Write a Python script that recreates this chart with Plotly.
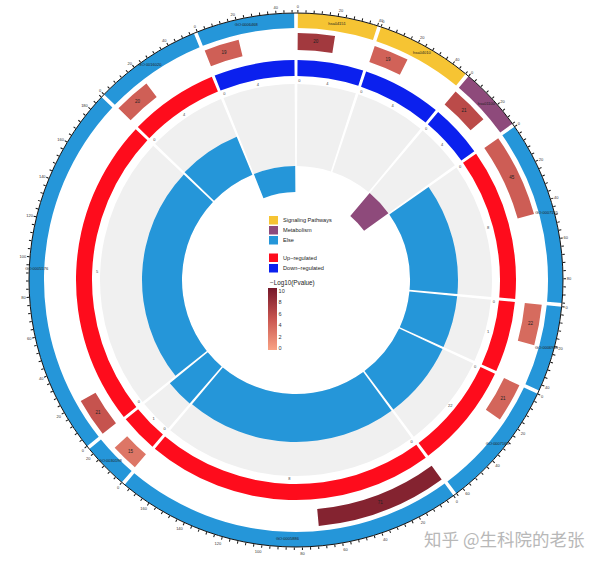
import plotly.graph_objects as go

# ---------------- data ----------------
terms = ["hsa04151", "hsa04010", "hsa01100", "GO:0007155", "GO:0006955", "GO:0007165",
         "GO:0005886", "GO:0030198", "GO:0005576", "GO:0016020", "GO:0006468"]
category = ["Signaling Pathways", "Signaling Pathways", "Metabolism", "Else", "Else", "Else",
            "Else", "Else", "Else", "Else", "Else"]
gene_total = [40, 48, 32, 92, 43, 64, 175, 23, 188, 54, 49]
gene_hit = [20, 19, 21, 45, 22, 21, 71, 15, 21, 20, 19]
neg_log10_p = [7.6, 4.2, 6.0, 4.6, 3.6, 3.9, 9.5, 2.8, 5.3, 4.4, 4.4]
regulation = ["Down", "Down", "Down", "Up", "Up", "Up", "Up", "Up", "Up", "Up", "Down"]
reg_count = [4, 4, 4, 8, 1, 22, 8, 1, 5, 4, 4]
rich_score = [0, 0, -0.30, 0.48, 0.48, 0.48, 0.48, 0.49, 0.40, 0.41, -0.26]
p_ticks = [0, 2, 4, 6, 8, 10]

cat_colors = {"Signaling Pathways": "#f6c433", "Metabolism": "#8e4a7b", "Else": "#2596d9"}
reg_colors = {"Up": "#fe0c1c", "Down": "#0b20ee"}
p_scale = [[0.0, "#f9a284"], [0.5, "#c95650"], [1.0, "#751729"]]

# ---------------- geometry (styles) ----------------
W, H = 600, 563
OFF = 0  # body margin removed via post_script
R_MAX = 267
GAP = 0.8
n = len(terms)
k = (360 - GAP * n) / sum(gene_total)
starts = []
acc = GAP / 2
for t in gene_total:
    starts.append(acc)
    acc += t * k + GAP
widths = [t * k for t in gene_total]
mids = [s + w / 2 for s, w in zip(starts, widths)]


def px(x):
    return (x - OFF) / W


def py(y):
    return 1 - (y - OFF) / H


fig = go.Figure()

# grey background track
fig.add_trace(go.Barpolar(theta=mids, width=widths, base=[114] * n, r=[82] * n,
                          marker=dict(color="#f0f0f0", line=dict(width=0)),
                          showlegend=False, hoverinfo="skip"))
# inner score bars
SCALE = 100
bar_base = [114 + min(0, v) * SCALE for v in rich_score]
bar_len = [abs(v) * SCALE for v in rich_score]
fig.add_trace(go.Barpolar(theta=mids, width=widths, base=bar_base, r=bar_len,
                          marker=dict(color=[cat_colors[c] for c in category], line=dict(width=0)),
                          showlegend=False, hoverinfo="skip"))
# up/down ring
fig.add_trace(go.Barpolar(theta=mids, width=widths, base=[204] * n, r=[16] * n,
                          marker=dict(color=[reg_colors[r] for r in regulation], line=dict(width=0)),
                          showlegend=False, hoverinfo="skip"))
# p-value rectangles
hit_w = [h * k for h in gene_hit]
hit_mid = [s + w / 2 for s, w in zip(starts, hit_w)]
fig.add_trace(go.Barpolar(theta=hit_mid, width=hit_w, base=[230] * n, r=[17] * n,
                          marker=dict(color=neg_log10_p, colorscale=p_scale, cmin=-0.35, cmax=10.5,
                                      line=dict(width=0), showscale=True,
                                      colorbar=dict(x=px(268), xanchor="left", xpad=0,
                                                    y=py(319), yanchor="middle", ypad=0,
                                                    len=62, lenmode="pixels", thickness=9,
                                                    tickvals=p_ticks, ticks="",
                                                    tickfont=dict(size=5.5, color="#333"),
                                                    outlinewidth=0)),
                          showlegend=False, hoverinfo="skip"))
# outer category ring
fig.add_trace(go.Barpolar(theta=mids, width=widths, base=[252] * n, r=[15] * n,
                          marker=dict(color=[cat_colors[c] for c in category], line=dict(width=0)),
                          showlegend=False, hoverinfo="skip"))

# texts
fig.add_trace(go.Scatterpolar(r=[259.5] * n, theta=mids, text=terms, mode="text",
                              textfont=dict(size=4, color="#222"), showlegend=False, hoverinfo="skip"))
fig.add_trace(go.Scatterpolar(r=[238.5] * n, theta=hit_mid, text=[str(h) for h in gene_hit], mode="text",
                              textfont=dict(size=4.5, color="#222"), showlegend=False, hoverinfo="skip"))
fig.add_trace(go.Scatterpolar(r=[199] * n, theta=mids, text=[str(c) for c in reg_count], mode="text",
                              textfont=dict(size=4, color="#444"), showlegend=False, hoverinfo="skip"))
fig.add_trace(go.Scatterpolar(r=[199] * n, theta=[s + 0.6 for s in starts], text=["0"] * n, mode="text",
                              textfont=dict(size=4, color="#444"), showlegend=False, hoverinfo="skip"))

# outer axis ticks (per sector gene scale)
tickvals, ticktext = [], []
for s, t in zip(starts, gene_total):
    for u in range(0, t + 1, 4):
        tickvals.append(s + u * k)
        ticktext.append(str(u) if u % 20 == 0 else "")

cx, cy = 296, 280  # screen coordinates of circle centre
fig.update_layout(
    width=W, height=H,
    margin=dict(l=0, r=0, t=0, b=0),
    paper_bgcolor="white",
    font=dict(family="Liberation Sans, Arial", color="#222"),
    polar=dict(
        domain=dict(x=[px(cx - R_MAX), px(cx + R_MAX)],
                    y=[py(cy + R_MAX), py(cy - R_MAX)]),
        bgcolor="white",
        bargap=0,
        radialaxis=dict(range=[0, R_MAX], visible=False),
        angularaxis=dict(rotation=90, direction="clockwise", thetaunit="degrees",
                         tickmode="array", tickvals=tickvals, ticktext=ticktext,
                         ticks="outside", ticklen=2.5, tickwidth=0.6, tickcolor="#111",
                         tickfont=dict(size=4, color="#333"),
                         showline=True, linecolor="#111", linewidth=1, showgrid=False),
    ),
)

# center legend
legend_items = [("Signaling Pathways", cat_colors["Signaling Pathways"], 216),
                ("Metabolism", cat_colors["Metabolism"], 226),
                ("Else", cat_colors["Else"], 236),
                ("Up-regulated", reg_colors["Up"], 253.5),
                ("Down-regulated", reg_colors["Down"], 264)]
for label, color, y0 in legend_items:
    fig.add_shape(type="rect", xref="paper", yref="paper",
                  x0=px(269), x1=px(278), y0=py(y0 + 8.5), y1=py(y0),
                  fillcolor=color, line=dict(width=0))
    fig.add_annotation(xref="paper", yref="paper", x=px(281), y=py(y0 + 4.25),
                       text=label.replace("-", "\u2212"),
                       showarrow=False, xanchor="left", yanchor="middle",
                       font=dict(size=5.6, color="#222"))
fig.add_annotation(xref="paper", yref="paper", x=px(267.5), y=py(282.5), text="\u2212Log10(Pvalue)",
                   showarrow=False, xanchor="left", yanchor="middle", font=dict(size=6.3, color="#222"))

# watermark
fig.add_annotation(xref="paper", yref="paper", x=px(586), y=py(538), text="知乎 @生科院的老张",
                   showarrow=False, xanchor="right", yanchor="middle",
                   font=dict(size=17.5, color="#b8b8b8", family="Noto Sans CJK SC"))

fig.write_html("out.html", config={"displayModeBar": False},
               post_script="document.body.style.margin='0';")
